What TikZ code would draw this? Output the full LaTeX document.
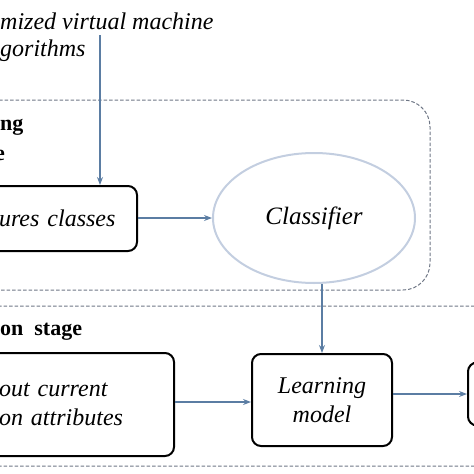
\documentclass[tikz,border=0pt]{standalone}
\usepackage{fontspec}
\setmainfont{Liberation Serif}
\usepackage{tikz}
\usetikzlibrary{positioning, arrows.meta, shapes.geometric}
\definecolor{linkblue}{HTML}{5B7DA3}
\definecolor{ovalblue}{HTML}{C3CEE0}
\definecolor{stagegray}{HTML}{6E7685}
\tikzset{x=1pt, y=-1pt, >={Stealth[length=8pt, width=6pt]},
	link/.style={->, draw=linkblue, line width=1.1pt},
	blockbox/.style={draw=black, line width=2pt, rounded corners=9pt, font=\fontsize{24}{29}\selectfont\itshape},
	stagebox/.style={draw=stagegray, line width=1pt, dash pattern=on 3.5pt off 2pt, rounded corners=27pt},
	stagename/.style={font=\fontsize{22}{26}\selectfont\bfseries, inner sep=0pt}}

\begin{document}
\begin{tikzpicture}
	\useasboundingbox (0,0) rectangle (474,474);
	\clip (0,0) rectangle (474,474);
	% stage frames
	\draw[stagebox] (-40,100) rectangle (430,290);
	\draw[stagebox] (-40,306) rectangle (520,466);
	\node[stagename, anchor=west] (Train) at (0,127) {ng};
	\node[stagename, anchor=east] (Train2) at (5,155) {e};
	\node[stagename, anchor=west] (Predict) at (0,332) {on\ \ stage};
	
	% blocks
	\node[anchor=west, inner sep=0pt, align=left, font=\fontsize{24}{27}\selectfont\itshape] (Input) at (0,37) {mized virtual machine\\gorithms};
	\coordinate (InputEnd) at (100,35);
	\node[blockbox, anchor=east, align=left, text width=118pt, inner xsep=20pt, minimum height=65pt] (Features) at (138,218.5) {ures classes};
	\node[ellipse, draw=ovalblue, line width=2pt, minimum width=202pt, minimum height=130pt, font=\fontsize{25}{30}\selectfont\itshape] (Classifier) at (314,218) {Classifier};
	\node[blockbox, anchor=east, align=left, text width=165pt, inner xsep=10pt, minimum height=103pt] (Current) at (175,404.5) {out current\\on attributes};
	\node[blockbox, align=center, minimum width=140pt, minimum height=92pt] (Learning) at (322,400) {Learning\\model};
	\node[blockbox, minimum width=60pt, minimum height=63pt] (Output) at (498,394) {};
	
	\draw[link] (InputEnd) -- (InputEnd |- Features.north);
	\draw[link] (Features.east |- Classifier.center) -- (Classifier.west);
	\draw[link] (Classifier.south -| Learning.north) -- (Learning.north);
	\draw[link] (Current.east |- 0,402) -- (Learning.west |- 0,402);
	\draw[link] (Learning.east |- Output.west) -- (Output.west);
\end{tikzpicture}
\end{document}
